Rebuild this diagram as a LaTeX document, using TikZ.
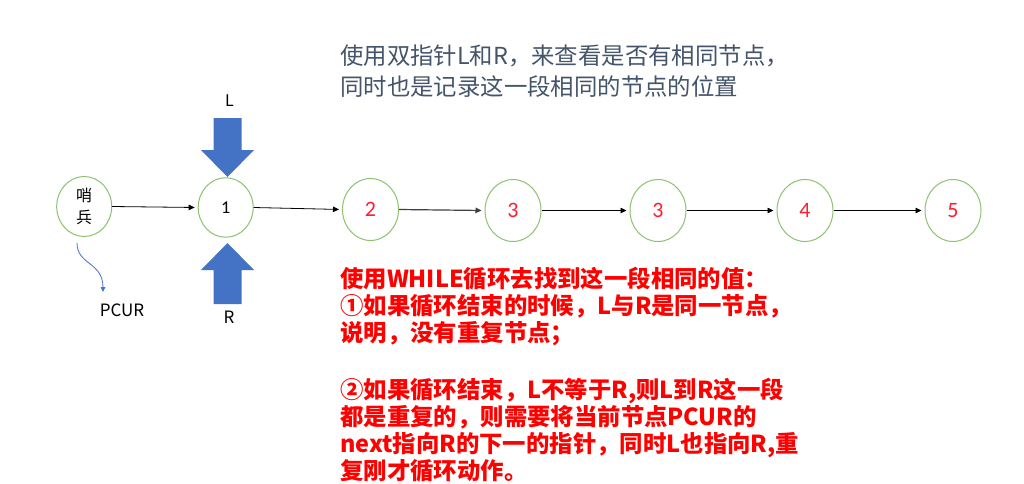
\documentclass[tikz,border=0pt]{standalone}
\usepackage{fontspec}
\setmainfont{Noto Sans CJK SC}
\newfontfamily\digitfont{Carlito}
\usetikzlibrary{arrows.meta,shapes.geometric}
\definecolor{nodegreen}{RGB}{141,194,111}
\definecolor{blockblue}{RGB}{68,114,196}
\definecolor{topgray}{RGB}{68,84,106}
\definecolor{numred}{RGB}{255,30,50}
\definecolor{linkgray}{RGB}{64,64,64}
\begin{document}
\begin{tikzpicture}[x=1pt,y=-1pt,
  lnode/.style={ellipse,draw=nodegreen,line width=1pt,minimum width=56pt,minimum height=62pt,inner sep=0pt,text=numred,font=\digitfont\fontsize{22}{24}\selectfont},
  link/.style={-{Triangle[length=6pt,width=5.5pt]},line width=0.8pt,black,shorten >=3pt},
  ptrarrow/.style={fill=blockblue,draw=none},
  plabel/.style={font=\fontsize{16}{18}\selectfont,text=black,inner sep=0pt},
  toptext/.style={font=\fontsize{23.4}{30.5}\selectfont,text=topgray,align=left,inner sep=0pt,anchor=north west},
  redtext/.style={font=\bfseries\fontsize{23.4}{27}\selectfont,text=red,align=left,inner sep=0pt,anchor=north west}]
\useasboundingbox[fill=white] (0,0) rectangle (1024,483);

% linked list nodes
\node[lnode,minimum width=55pt,minimum height=60pt,text=black,font=\fontsize{16}{22}\selectfont,align=center] (s) at (84.2,206.5) {哨\\兵};
\node[lnode,minimum width=55pt,minimum height=59.5pt,text=black,font=\digitfont\fontsize{18}{20}\selectfont] (n1) at (225.7,207.5) {1};
\node[lnode] (n2) at (370.5,209.5) {2};
\node[lnode] (n3) at (513,210.5) {3};
\node[lnode] (n4) at (658,210.5) {3};
\node[lnode] (n5) at (805,210.5) {4};
\node[lnode] (n6) at (953,210.5) {5};

% links
\draw[link] (s.east) -- (n1.west);
\draw[link] (n1.east) -- (n2.west);
\draw[link,line width=1.2pt,draw=linkgray] (n2.east) -- (n3.west);
\draw[link] (n3.east) -- (n4.west);
\draw[link] (n4.east) -- (n5.west);
\draw[link] (n5.east) -- (n6.west);

% L and R pointer block arrows
\coordinate (ltip) at (227.5,177);
\coordinate (rtip) at (227.5,243);
\fill[ptrarrow] (ltip) -- ++(26.5,-27) -- ++(-12.5,0) -- ++(0,-32) -- ++(-28,0) -- ++(0,32) -- ++(-12.5,0) -- cycle;
\fill[ptrarrow] (rtip) -- ++(26.5,27) -- ++(-12.5,0) -- ++(0,34) -- ++(-28,0) -- ++(0,-34) -- ++(-12.5,0) -- cycle;
\node[plabel] (lL) at (229.5,101) {L};
\node[plabel,font=\fontsize{17}{19}\selectfont] (lR) at (229,317.5) {R};

% PCUR
\node[plabel,font=\fontsize{17}{19}\selectfont] (pcur) at (122,310.5) {PCUR};
\coordinate (pstart) at (77,243);
\coordinate (pend) at (103,292);
\draw[blockblue,line width=0.8pt,-{Triangle[length=5pt,width=4.5pt]}] (pstart) .. controls (77,265) and (103,262) .. (pend);

% texts
\node[toptext] (top) at (340,45) {使用双指针L和R，来查看是否有相同节点，\\同时也是记录这一段相同的节点的位置};
\node[redtext] (red) at (340,266.5) {使用WHILE循环去找到这一段相同的值：\\①如果循环结束的时候，L与R是同一节点，\\说明，没有重复节点；\\[30pt]②如果循环结束，L不等于R,则L到R这一段\\都是重复的，则需要将当前节点PCUR的\\next指向R的下一的指针，同时L也指向R,重\\复刚才循环动作。};
\end{tikzpicture}
\end{document}
